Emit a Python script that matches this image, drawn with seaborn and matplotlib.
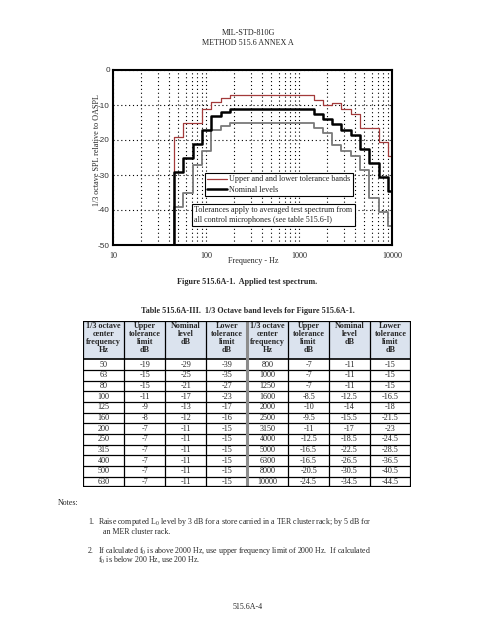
import numpy as np
import pandas as pd
import matplotlib
matplotlib.use("Agg")
import matplotlib.pyplot as plt
from matplotlib.lines import Line2D
import seaborn as sns

# ---------------- data ----------------
freqs = [50, 63, 80, 100, 125, 160, 200, 250, 315, 400, 500, 630,
         800, 1000, 1250, 1600, 2000, 2500, 3150, 4000, 5000, 6300, 8000, 10000]
upper = [-19, -15, -15, -11, -9, -8, -7, -7, -7, -7, -7, -7,
         -7, -7, -7, -8.5, -10, -9.5, -11, -12.5, -16.5, -16.5, -20.5, -24.5]
nominal = [-29, -25, -21, -17, -13, -12, -11, -11, -11, -11, -11, -11,
           -11, -11, -11, -12.5, -14, -15.5, -17, -18.5, -22.5, -26.5, -30.5, -34.5]
lower = [-39, -35, -27, -23, -17, -16, -15, -15, -15, -15, -15, -15,
         -15, -15, -15, -16.5, -18, -21.5, -23, -24.5, -28.5, -36.5, -40.5, -44.5]
yticks = [0, -10, -20, -30, -40, -50]
xticks = [10, 100, 1000, 10000]

header_lines = ["MIL-STD-810G", "METHOD 515.6 ANNEX A"]
fig_caption = "Figure 515.6A-1.  Applied test spectrum."
table_caption = "Table 515.6A-III.  1/3 Octave band levels for Figure 515.6A-1."
col_headers = ["1/3 octave\ncenter\nfrequency\nHz", "Upper\ntolerance\nlimit\ndB",
               "Nominal\nlevel\ndB", "Lower\ntolerance\nlimit\ndB"]
legend_labels = ["Upper and and lower tolerance bands", "Nominal levels"]
note_text = "Tolerances apply to averaged test spectrum from\nall control microphones (see table 515.6-I)"

# ---------------- style ----------------
sns.set_theme(style="white")
plt.rcParams['font.family'] = ['Liberation Serif', 'DejaVu Serif']
plt.rcParams['mathtext.fontset'] = 'stix'

W, H = 495, 640
fig = plt.figure(figsize=(W / 100, H / 100), dpi=100)
fig.patch.set_facecolor('white')


def fx(x):
    return x / W


def fy(y):
    return 1 - y / H


FS = 5.9

# ---------------- chart ----------------
ax = fig.add_axes([fx(113.3), fy(245), (392.3 - 113.3) / W, 175 / H])


def step_frame(vals):
    f = np.array(freqs, dtype=float)
    lo_edges = f * 10 ** (-0.05)
    last_edge = f[-1] * 10 ** 0.05
    xs = [lo_edges[0]] + list(lo_edges) + [last_edge]
    ys = [-50] + list(vals) + [vals[-1]]
    return pd.DataFrame({"freq": xs, "level": ys})


red = "#a33a3a"
gray = "#7a7a7a"
sns.lineplot(data=step_frame(upper), x="freq", y="level", drawstyle="steps-post",
             sort=False, estimator=None, color=red, lw=0.9, ax=ax, zorder=3)
sns.lineplot(data=step_frame(lower), x="freq", y="level", drawstyle="steps-post",
             sort=False, estimator=None, color=gray, lw=1.3, ax=ax, zorder=3)
sns.lineplot(data=step_frame(nominal), x="freq", y="level", drawstyle="steps-post",
             sort=False, estimator=None, color="black", lw=1.8, ax=ax, zorder=4)

ax.set_xscale("log")
ax.set_xlim(10, 10000)
ax.set_ylim(-50, 0)
ax.set_yticks(yticks)
ax.set_xticks(xticks)
ax.set_xticklabels([str(t) for t in xticks])
ax.set_yticklabels([str(t) for t in yticks])
ax.xaxis.set_minor_locator(matplotlib.ticker.LogLocator(base=10, subs=np.arange(2, 10)))
ax.xaxis.set_minor_formatter(matplotlib.ticker.NullFormatter())
ax.grid(True, which="both", axis="x", color="black", lw=0.8, ls=(0, (1, 2.5)))
ax.grid(True, which="major", axis="y", color="black", lw=0.8, ls=(0, (1, 2.5)))
ax.tick_params(which="both", length=0)
ax.tick_params(axis="x", pad=5, labelsize=FS)
ax.tick_params(axis="y", pad=2.5, labelsize=FS, labelcolor="#333333")
for lbl in ax.get_yticklabels():
    lbl.set_fontfamily(['Liberation Sans', 'DejaVu Sans'])
for sp in ax.spines.values():
    sp.set_color("black")
    sp.set_linewidth(1.5)
    sp.set_zorder(6)

ax.set_xlabel("Frequency - Hz", fontsize=FS)
ax.xaxis.set_label_coords(0.5, -0.07)
ax.set_ylabel("1/3 octave SPL relative to OASPL", fontsize=FS)
ax.yaxis.set_label_coords(-0.044, 0.543)

handles = [Line2D([], [], color=red, lw=0.9), Line2D([], [], color="black", lw=1.8)]
leg = ax.legend(handles, legend_labels, loc="upper left",
                bbox_to_anchor=((205 - 113.3) / 279, (245 - 173) / 175),
                frameon=True, fancybox=False, edgecolor="black", framealpha=1,
                borderpad=0.3, handlelength=2.4, handletextpad=0.25,
                labelspacing=0.3, borderaxespad=0, fontsize=FS)
leg.get_frame().set_linewidth(0.8)
leg.set_zorder(7)

ax.text((194.5 - 113.3) / 279, (245 - 206) / 175, note_text, transform=ax.transAxes,
        ha="left", va="top", fontsize=FS, linespacing=1.25, zorder=7,
        bbox=dict(boxstyle="square,pad=0.25", fc="white", ec="black", lw=0.8))

# ---------------- page text ----------------
fig.text(fx(248), fy(33.3), header_lines[0], ha="center", va="center", fontsize=FS)
fig.text(fx(248), fy(43.3), header_lines[1], ha="center", va="center", fontsize=FS)
fig.text(fx(247), fy(281.7), fig_caption, ha="center", va="center", fontsize=FS,
         fontweight="bold")
fig.text(fx(247.5), fy(310.7), table_caption, ha="center", va="center", fontsize=FS,
         fontweight="bold")

# ---------------- table ----------------
hdr_h = 38.6 / 10.67
nrows = 12
tax = fig.add_axes([fx(83.3), fy(487.3), (411 - 83.3) / W, (487.3 - 320.7) / H])
tax.set_xlim(0, 8)
tax.set_ylim(hdr_h + nrows, 0)
tax.axis("off")
tax.add_patch(plt.Rectangle((0, 0), 8, hdr_h, fc="#dbe3ee", ec="none", zorder=1))

for c in range(8):
    tax.text(c + 0.5, 0.12, col_headers[c % 4], ha="center", va="top", fontsize=FS,
             fontweight="bold", linespacing=1.02, zorder=3)

cols_left = [freqs[:12], upper[:12], nominal[:12], lower[:12]]
cols_right = [freqs[12:], upper[12:], nominal[12:], lower[12:]]
for r in range(nrows):
    yc = hdr_h + r + 0.5
    for c, col in enumerate(cols_left + cols_right):
        tax.text(c + 0.5, yc, f"{col[r]:g}", ha="center", va="center",
                 fontsize=FS, zorder=3)

# grid lines of table
for r in range(1, nrows):
    tax.plot([0, 8], [hdr_h + r] * 2, color="black", lw=0.9, zorder=2)
tax.plot([0, 8], [hdr_h, hdr_h], color="black", lw=1.2, zorder=2)
for c in [1, 2, 3, 5, 6, 7]:
    tax.plot([c, c], [0, hdr_h + nrows], color="black", lw=0.9, zorder=2)
tax.plot([4, 4], [0, hdr_h + nrows], color="#8c8c8c", lw=2.2, zorder=2)
tax.plot([0, 8, 8, 0, 0], [0, 0, hdr_h + nrows, hdr_h + nrows, 0], color="black",
         lw=1.6, zorder=4, solid_joinstyle="miter")

# ---------------- notes ----------------
NS = 5.7
fig.text(fx(58), fy(503), "Notes:", ha="left", va="center", fontsize=NS)
fig.text(fx(88), fy(522), "1.", ha="left", va="center", fontsize=NS)
fig.text(fx(97.7), fy(522),
         "Raise computed L$_0$ level by 3 dB for a store carried in a TER cluster rack; by 5 dB for",
         ha="left", va="center", fontsize=NS)
fig.text(fx(103), fy(531.7), "an MER cluster rack.", ha="left", va="center", fontsize=NS)
fig.text(fx(88), fy(550.7), "2.", ha="left", va="center", fontsize=NS)
fig.text(fx(97.7), fy(550.7),
         "If calculated f$_0$ is above 2000 Hz, use upper frequency limit of 2000 Hz.  If calculated",
         ha="left", va="center", fontsize=NS)
fig.text(fx(97.7), fy(560), "f$_0$ is below 200 Hz, use 200 Hz.", ha="left", va="center",
         fontsize=NS)
fig.text(fx(248), fy(606.7), "515.6A-4", ha="center", va="center", fontsize=NS)

fig.savefig("out.png", dpi=100, facecolor="white")
